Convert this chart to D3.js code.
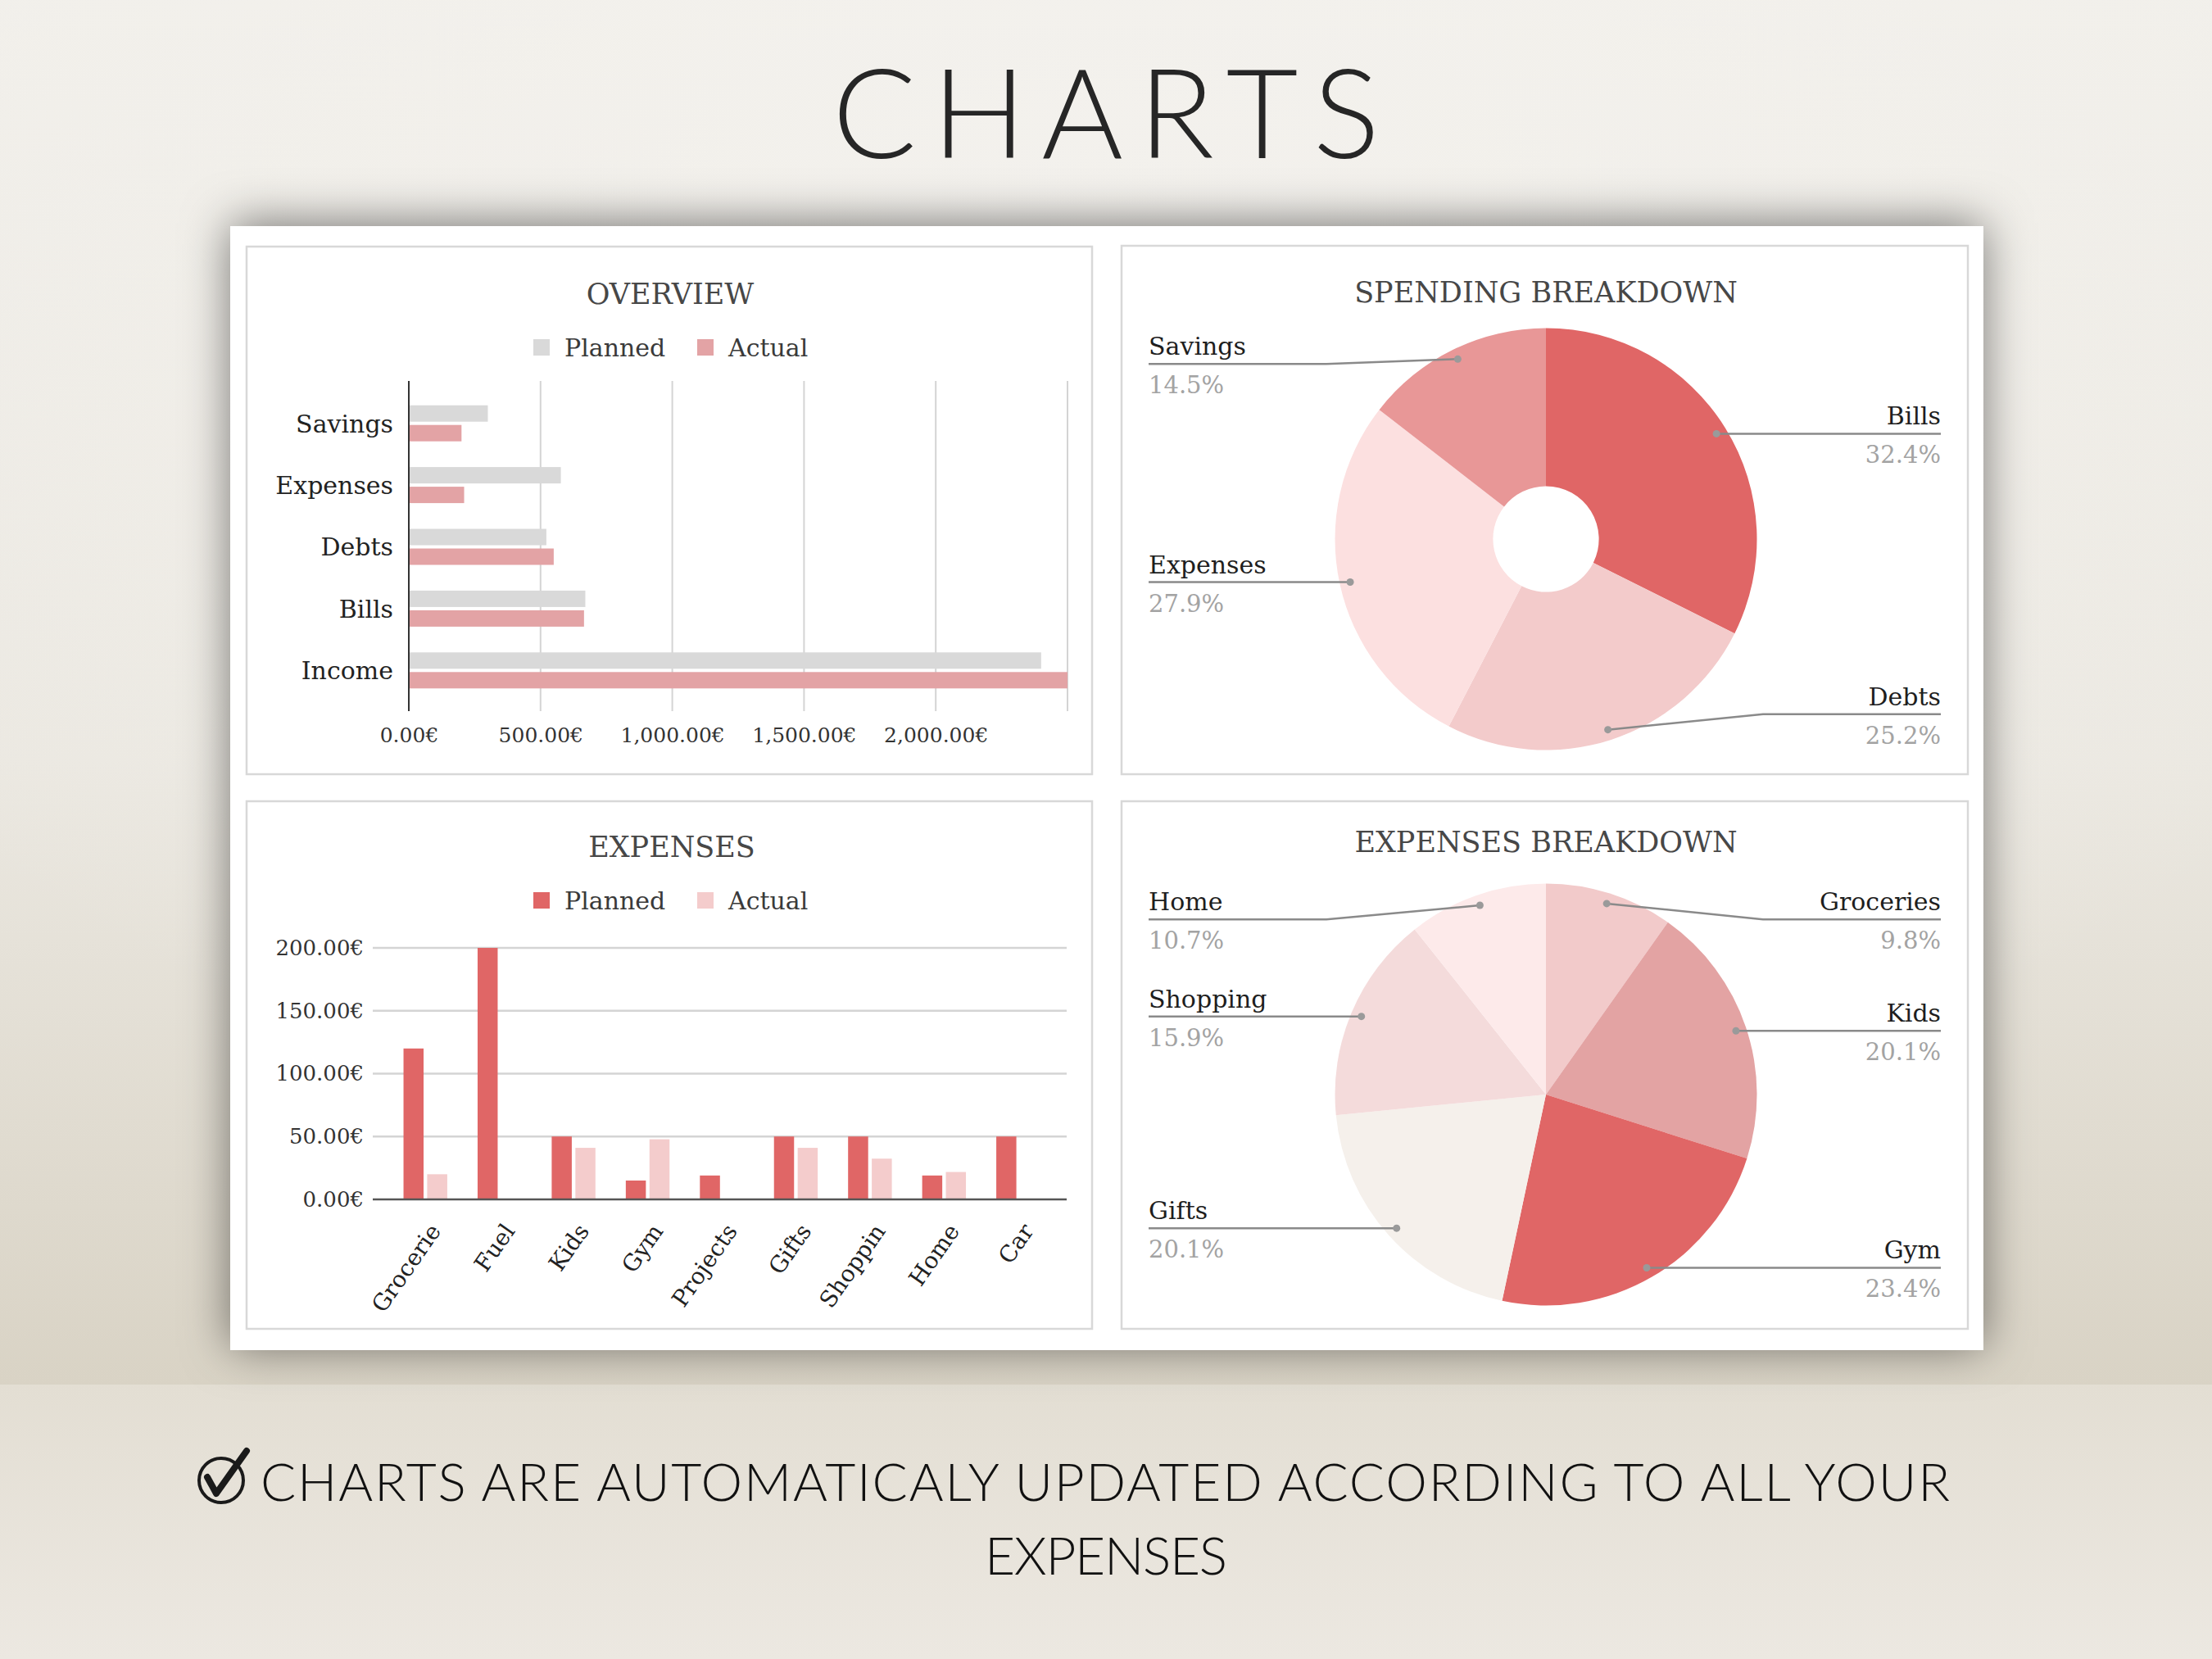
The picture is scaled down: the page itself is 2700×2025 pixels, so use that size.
<!DOCTYPE html>
<html>
<head>
<meta charset="utf-8">
<script src="https://cdn.jsdelivr.net/npm/d3@7/dist/d3.min.js"></script>
<style>
  html, body { margin: 0; padding: 0; background: #efece6; }
  svg { display: block; }
</style>
</head>
<body>
<svg id="chart" width="2700" height="2025"></svg>
<script>
// ---------------- DATA ----------------
const overviewCategories = ["Savings", "Expenses", "Debts", "Bills", "Income"];
const overviewPlanned    = [300, 577, 522, 670, 2400];
const overviewActual     = [200, 210, 550, 665, 2500];
const overviewTicks      = [0, 500, 1000, 1500, 2000];
const overviewGrid       = [0, 500, 1000, 1500, 2000, 2500];

const spendingLabels = ["Bills", "Debts", "Expenses", "Savings"];
const spendingValues = [670, 522, 577, 300];

const expenseCategories = ["Grocerie", "Fuel", "Kids", "Gym", "Projects", "Gifts", "Shoppin", "Home", "Car"];
const expensePlanned    = [120, 200, 50, 15, 19, 50, 50, 19, 50];
const expenseActual     = [20, 0, 41, 47.8, 0, 41, 32.4, 21.8, 0];
const expenseTicks      = [0, 50, 100, 150, 200];

const breakdownLabels = ["Groceries", "Kids", "Gym", "Gifts", "Shopping", "Home"];
const breakdownValues = [20, 41, 47.8, 41, 32.4, 21.8];

const legendLabels = ["Planned", "Actual"];
const mainTitle = "CHARTS";
const footerLine1 = "CHARTS ARE AUTOMATICALY UPDATED ACCORDING TO ALL YOUR";
const footerLine2 = "EXPENSES";

// ---------------- SETUP ----------------
const svg = d3.select("#chart");
const defs = svg.append("defs");
const serif = "'DejaVu Serif', Georgia, serif";
const sans = "Lato, 'Noto Sans', sans-serif";
const eur = v => d3.format(",.2f")(v) + "€";

// background gradients
const g1 = defs.append("linearGradient").attr("id", "bgTop").attr("x1", 0).attr("y1", 0).attr("x2", 0).attr("y2", 1);
g1.append("stop").attr("offset", "0").attr("stop-color", "#f1efea");
g1.append("stop").attr("offset", "0.55").attr("stop-color", "#ebe8e1");
g1.append("stop").attr("offset", "1").attr("stop-color", "#d9d3c5");
const g2 = defs.append("linearGradient").attr("id", "bgBot").attr("x1", 0).attr("y1", 0).attr("x2", 0).attr("y2", 1);
g2.append("stop").attr("offset", "0").attr("stop-color", "#e3ded3");
g2.append("stop").attr("offset", "1").attr("stop-color", "#ece8e1");
const rg = defs.append("radialGradient").attr("id", "bgGlow").attr("cx", 0.5).attr("cy", 0.15).attr("r", 0.7);
rg.append("stop").attr("offset", "0").attr("stop-color", "#f4f2ee").attr("stop-opacity", 0.8);
rg.append("stop").attr("offset", "1").attr("stop-color", "#f4f2ee").attr("stop-opacity", 0);

const sh = defs.append("filter").attr("id", "shadow").attr("x", "-10%").attr("y", "-15%").attr("width", "120%").attr("height", "130%");
sh.append("feDropShadow").attr("dx", 0).attr("dy", -4).attr("stdDeviation", 28)
  .attr("flood-color", "#000").attr("flood-opacity", 0.5);

svg.append("rect").attr("x", 0).attr("y", 0).attr("width", 2700).attr("height", 1690).attr("fill", "url(#bgTop)");
svg.append("rect").attr("x", 0).attr("y", 0).attr("width", 2700).attr("height", 1690).attr("fill", "url(#bgGlow)");
svg.append("rect").attr("x", 0).attr("y", 1690).attr("width", 2700).attr("height", 335).attr("fill", "url(#bgBot)");

// main title
svg.append("text").attr("x", 1350).attr("y", 193).attr("text-anchor", "middle")
  .attr("font-family", sans).attr("font-weight", 300).attr("font-size", 152)
  .attr("fill", "#262626").attr("textLength", 668).attr("lengthAdjust", "spacing")
  .text(mainTitle);

// card
svg.append("rect").attr("x", 281).attr("y", 276).attr("width", 2140).attr("height", 1372)
  .attr("fill", "#ffffff").attr("filter", "url(#shadow)");

// panels
const panels = [
  {x: 301, y: 301, w: 1032, h: 644},
  {x: 1369, y: 300, w: 1033, h: 645},
  {x: 301, y: 978, w: 1032, h: 644},
  {x: 1369, y: 978, w: 1033, h: 644}
];
svg.selectAll("rect.panel").data(panels).join("rect").attr("class", "panel")
  .attr("x", d => d.x).attr("y", d => d.y).attr("width", d => d.w).attr("height", d => d.h)
  .attr("fill", "#fff").attr("stroke", "#d8d8d8").attr("stroke-width", 2.5);

function title(x, y, t) {
  svg.append("text").attr("x", x).attr("y", y).attr("text-anchor", "middle")
    .attr("font-family", serif).attr("font-size", 35).attr("fill", "#474747").text(t);
}
function legend(y, colors) {
  const lg = svg.append("g");
  const xs = [651, 851];
  legendLabels.forEach((lab, i) => {
    lg.append("rect").attr("x", xs[i]).attr("y", y - 10).attr("width", 20).attr("height", 20).attr("fill", colors[i]);
    lg.append("text").attr("x", xs[i] + 38).attr("y", y).attr("dy", "0.36em")
      .attr("font-family", serif).attr("font-size", 30).attr("fill", "#3a3a3a").text(lab);
  });
}

// ---------------- OVERVIEW ----------------
const oPlannedColor = "#d9d9d9", oActualColor = "#e3a3a5";
title(818, 371, "OVERVIEW");
legend(424, [oPlannedColor, oActualColor]);

const xO = d3.scaleLinear().domain([0, 2500]).range([499, 1303]);
const yO = d3.scaleBand().domain(overviewCategories).range([479, 856]);
const ov = svg.append("g");
ov.selectAll("line.grid").data(overviewGrid.slice(1)).join("line")
  .attr("x1", d => xO(d)).attr("x2", d => xO(d)).attr("y1", 465).attr("y2", 868)
  .attr("stroke", "#d4d4d4").attr("stroke-width", 2);

const oRows = overviewCategories.map((c, i) => ({c, p: overviewPlanned[i], a: overviewActual[i]}));
ov.selectAll("rect.p").data(oRows).join("rect")
  .attr("x", xO(0) + 1).attr("y", d => yO(d.c) + yO.bandwidth() / 2 - 22)
  .attr("width", d => xO(d.p) - xO(0) - 1).attr("height", 20).attr("fill", oPlannedColor);
ov.selectAll("rect.a").data(oRows).join("rect")
  .attr("x", xO(0) + 1).attr("y", d => yO(d.c) + yO.bandwidth() / 2 + 2)
  .attr("width", d => xO(d.a) - xO(0) - 1).attr("height", 20).attr("fill", oActualColor);

ov.append("line").attr("x1", xO(0)).attr("x2", xO(0)).attr("y1", 465).attr("y2", 868)
  .attr("stroke", "#333").attr("stroke-width", 2);

ov.selectAll("text.cat").data(overviewCategories).join("text")
  .attr("x", 480).attr("y", d => yO(d) + yO.bandwidth() / 2).attr("dy", "0.36em")
  .attr("text-anchor", "end").attr("font-family", serif).attr("font-size", 30).attr("fill", "#222")
  .text(d => d);

const xAxisO = ov.append("g").attr("transform", "translate(0,880)")
  .call(d3.axisBottom(xO).tickValues(overviewTicks).tickFormat(eur).tickSize(0));
xAxisO.select(".domain").remove();
xAxisO.selectAll("text").attr("font-family", serif).attr("font-size", 25).attr("fill", "#333").attr("dy", "0.9em");

// ---------------- EXPENSES BAR ----------------
const ePlannedColor = "#e06666", eActualColor = "#f4cccc";
title(820, 1046, "EXPENSES");
legend(1099, [ePlannedColor, eActualColor]);

const yE = d3.scaleLinear().domain([0, 200]).range([1464, 1157]);
const xE = d3.scaleBand().domain(expenseCategories).range([474, 1288]);
const ex = svg.append("g");
ex.selectAll("line.grid").data(expenseTicks.slice(1)).join("line")
  .attr("x1", 455).attr("x2", 1302).attr("y1", d => yE(d)).attr("y2", d => yE(d))
  .attr("stroke", "#d4d4d4").attr("stroke-width", 2.5);

const eRows = expenseCategories.map((c, i) => ({c, p: expensePlanned[i], a: expenseActual[i]}));
const bw = 24.5;
ex.selectAll("rect.p").data(eRows).join("rect")
  .attr("x", d => xE(d.c) + xE.bandwidth() / 2 - bw - 2.2).attr("y", d => yE(d.p))
  .attr("width", bw).attr("height", d => yE(0) - yE(d.p)).attr("fill", ePlannedColor);
ex.selectAll("rect.a").data(eRows.filter(d => d.a > 0)).join("rect")
  .attr("x", d => xE(d.c) + xE.bandwidth() / 2 + 2.2).attr("y", d => yE(d.a))
  .attr("width", bw).attr("height", d => yE(0) - yE(d.a)).attr("fill", eActualColor);

ex.append("line").attr("x1", 455).attr("x2", 1302).attr("y1", yE(0)).attr("y2", yE(0))
  .attr("stroke", "#555").attr("stroke-width", 2.5);

const yAxisE = ex.append("g").attr("transform", "translate(444,0)")
  .call(d3.axisLeft(yE).tickValues(expenseTicks).tickFormat(eur).tickSize(0).tickPadding(0));
yAxisE.select(".domain").remove();
yAxisE.selectAll("text").attr("font-family", serif).attr("font-size", 26).attr("fill", "#333");

ex.selectAll("text.xl").data(expenseCategories).join("text")
  .attr("transform", d => `translate(${xE(d) + xE.bandwidth() / 2 + 12},1497) rotate(-55)`)
  .attr("text-anchor", "end").attr("dy", "0.35em")
  .attr("font-family", serif).attr("font-size", 28).attr("fill", "#222").text(d => d);

// ---------------- PIES ----------------
function pieChart(cx, cy, R, inner, labels, values, colors, titleText, titleY) {
  title(cx, titleY, titleText);
  const total = d3.sum(values);
  const data = labels.map((l, i) => ({l, v: values[i], col: colors[i]}));
  const arcs = d3.pie().sort(null).value(d => d.v)(data);
  const arc = d3.arc().innerRadius(inner).outerRadius(R);
  const g = svg.append("g").attr("transform", `translate(${cx},${cy})`);
  g.selectAll("path").data(arcs).join("path").attr("d", arc).attr("fill", d => d.data.col);

  const leftX = 1402, rightX = 2369, elbow = 217;
  arcs.forEach(d => {
    const a = (d.startAngle + d.endAngle) / 2;
    const dx = cx + Math.sin(a) * 0.95 * R;
    const dy = cy - Math.cos(a) * 0.95 * R;
    const ly = Math.max(cy - 0.83 * R, Math.min(cy + 0.83 * R, dy));
    const left = a > Math.PI;
    const tx = left ? leftX : rightX;
    const ex2 = left ? tx + elbow : tx - elbow;
    svg.append("path").attr("d", `M${tx},${ly}L${ex2},${ly}L${dx},${dy}`)
      .attr("fill", "none").attr("stroke", "#8a8a8a").attr("stroke-width", 2.5);
    svg.append("circle").attr("cx", dx).attr("cy", dy).attr("r", 4.5).attr("fill", "#9a9a9a");
    svg.append("text").attr("x", tx).attr("y", ly - 11).attr("text-anchor", left ? "start" : "end")
      .attr("font-family", serif).attr("font-size", 30).attr("fill", "#1e1e1e").text(d.data.l);
    svg.append("text").attr("x", tx).attr("y", ly + 36).attr("text-anchor", left ? "start" : "end")
      .attr("font-family", serif).attr("font-size", 29).attr("fill", "#a3a3a3")
      .text(d3.format(".1f")(d.data.v / total * 100) + "%");
  });
}

pieChart(1887, 658, 257.5, 64.6, spendingLabels, spendingValues,
  ["#e06666", "#f3cbcb", "#fce0e0", "#e89797"], "SPENDING BREAKDOWN", 369);
pieChart(1887, 1336, 257.5, 0, breakdownLabels, breakdownValues,
  ["#f2caca", "#e3a3a3", "#e06666", "#f5f0eb", "#f4dbdb", "#fdeaea"], "EXPENSES BREAKDOWN", 1040);

// ---------------- FOOTER ----------------
const ft = svg.append("g");
ft.append("circle").attr("cx", 270).attr("cy", 1807).attr("r", 27)
  .attr("fill", "none").attr("stroke", "#1a1a1a").attr("stroke-width", 4);
ft.append("path").attr("d", "M253,1803 L264,1823 L301,1771")
  .attr("fill", "none").attr("stroke", "#1a1a1a").attr("stroke-width", 8)
  .attr("stroke-linecap", "round").attr("stroke-linejoin", "round");
ft.append("text").attr("x", 318).attr("y", 1832)
  .attr("font-family", sans).attr("font-weight", 300).attr("font-size", 64).attr("fill", "#111")
  .attr("textLength", 2062).attr("lengthAdjust", "spacing").text(footerLine1);
ft.append("text").attr("x", 1350).attr("y", 1922).attr("text-anchor", "middle")
  .attr("font-family", sans).attr("font-weight", 300).attr("font-size", 64).attr("fill", "#111")
  .attr("textLength", 296).attr("lengthAdjust", "spacing").text(footerLine2);
</script>
</body>
</html>
